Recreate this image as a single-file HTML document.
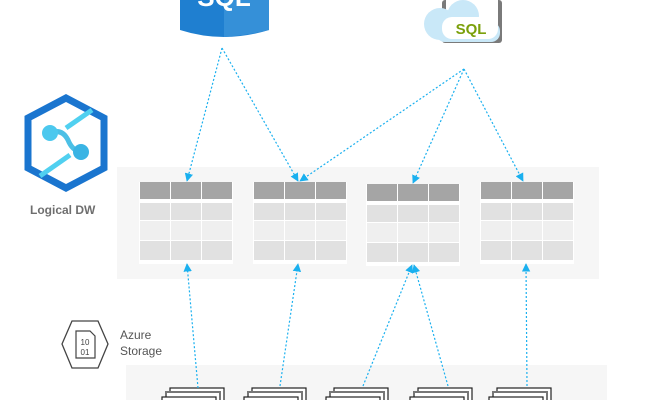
<!DOCTYPE html>
<html><head><style>
html,body{margin:0;width:650px;height:400px;background:#fff;overflow:hidden;font-family:"Liberation Sans",sans-serif}
svg{display:block}
</style></head><body>
<svg width="650" height="400" viewBox="0 0 650 400" xmlns="http://www.w3.org/2000/svg">
<defs>
<marker id="ah" viewBox="0 0 10 10" refX="9" refY="5" markerWidth="7" markerHeight="7" orient="auto-start-reverse"><path d="M0,0L10,5L0,10z" fill="#1ab0ef"/></marker>
<g id="t">
<rect x="0" y="0" width="94" height="82" fill="#fff"/>
<rect x="1" y="0" width="30" height="17" fill="#a5a5a5"/><rect x="32" y="0" width="30" height="17" fill="#a5a5a5"/><rect x="63" y="0" width="30" height="17" fill="#a5a5a5"/>
<rect x="1" y="21" width="30" height="17" fill="#e1e1e1"/><rect x="32" y="21" width="30" height="17" fill="#e1e1e1"/><rect x="63" y="21" width="30" height="17" fill="#e1e1e1"/>
<rect x="1" y="39" width="30" height="19" fill="#efefef"/><rect x="32" y="39" width="30" height="19" fill="#efefef"/><rect x="63" y="39" width="30" height="19" fill="#efefef"/>
<rect x="1" y="59" width="30" height="19" fill="#e1e1e1"/><rect x="32" y="59" width="30" height="19" fill="#e1e1e1"/><rect x="63" y="59" width="30" height="19" fill="#e1e1e1"/>
</g>
<g id="d" fill="#fff" stroke="#222" stroke-width="1.2">
<rect x="5" y="0" width="54" height="30"/>
<rect x="1" y="4" width="54" height="30" stroke="#777" stroke-width="2"/>
<rect x="-3" y="9" width="54" height="30"/>
</g>
</defs>
<!-- panels -->
<rect x="117" y="167" width="482" height="112" fill="#f6f6f6"/>
<rect x="126" y="365" width="481" height="40" fill="#f6f6f6"/>
<!-- SQL cylinder -->
<path d="M180,0 V30 Q224,44 269,30 V0 Z" fill="#1f7fd0"/>
<path d="M224,0 V37 Q250,35 269,30 V0 Z" fill="#3590d8"/>
<text x="224" y="6" font-size="26" font-weight="bold" fill="#fff" text-anchor="middle">SQL</text>
<!-- cloud sql -->
<rect x="442" y="0" width="60" height="43" rx="3" fill="#7a7a7a"/>
<rect x="446" y="0" width="52" height="39" fill="#fff"/>
<circle cx="440" cy="24" r="16" fill="#c9e8f8"/>
<circle cx="463" cy="16" r="16" fill="#c9e8f8"/>
<rect x="436" y="22" width="64" height="20" rx="9" fill="#c9e8f8"/>
<rect x="442" y="17" width="56" height="22" rx="10" fill="#fff"/>
<text x="471" y="34" font-size="15" font-weight="bold" fill="#7ba00b" text-anchor="middle">SQL</text>
<!-- synapse hex -->
<polygon points="66,98 104,118 104,168 66,188 28,168 28,118" fill="none" stroke="#1a75cf" stroke-width="7"/>
<line x1="66" y1="128" x2="92" y2="110" stroke="#50d0f0" stroke-width="5"/>
<line x1="40" y1="176" x2="70" y2="155" stroke="#50d0f0" stroke-width="5"/>
<path d="M50,133 Q62,128 68,140 Q72,150 80,152" fill="none" stroke="#4cc0e6" stroke-width="5"/>
<circle cx="50" cy="133" r="8" fill="#4cc8ee"/>
<circle cx="81" cy="152" r="8" fill="#3ab4e4"/>
<text x="30" y="214" font-size="12" fill="#555" font-weight="bold" opacity="0.85">Logical DW</text>
<!-- storage -->
<polygon points="72,321 98,321 108,344 98,368 72,368 62,344" fill="#fff" stroke="#444" stroke-width="1.3"/>
<path d="M76,331 H90 L95,336 V358 H76 Z" fill="#fff" stroke="#444" stroke-width="1.2"/>
<text x="85" y="345" font-size="8" fill="#444" text-anchor="middle">10</text>
<text x="85" y="355" font-size="8" fill="#444" text-anchor="middle">01</text>
<text x="120" y="339" font-size="12" fill="#555">Azure</text>
<text x="120" y="355" font-size="12" fill="#555">Storage</text>
<!-- tables -->
<use href="#t" x="139" y="182"/>
<use href="#t" x="253" y="182"/>
<use href="#t" x="366" y="184"/>
<use href="#t" x="480" y="182"/>
<!-- doc stacks -->
<use href="#d" x="165" y="388"/>
<use href="#d" x="247" y="388"/>
<use href="#d" x="329" y="388"/>
<use href="#d" x="413" y="388"/>
<use href="#d" x="492" y="388"/>
<!-- arrows -->
<g stroke="#1ab0ef" stroke-width="1.2" stroke-dasharray="2,2" fill="none" marker-end="url(#ah)">
<line x1="222" y1="48" x2="187" y2="181"/>
<line x1="222" y1="48" x2="298" y2="181"/>
<line x1="464" y1="69" x2="300" y2="181"/>
<line x1="464" y1="69" x2="413" y2="183"/>
<line x1="464" y1="69" x2="523" y2="181"/>
<line x1="198" y1="388" x2="187" y2="264"/>
<line x1="280" y1="386" x2="298" y2="264"/>
<line x1="363" y1="386" x2="412" y2="265"/>
<line x1="448" y1="386" x2="414" y2="265"/>
<line x1="527" y1="386" x2="526" y2="264"/>
</g>
</svg>
</body></html>
